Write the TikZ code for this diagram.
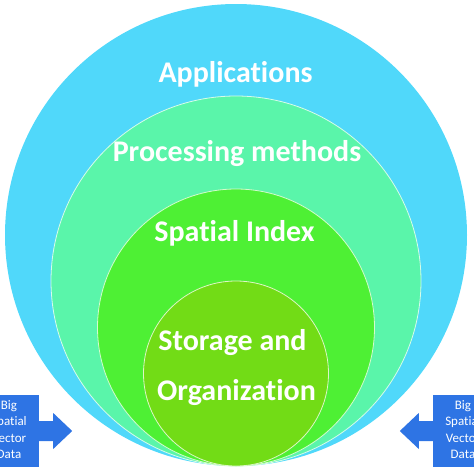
\documentclass[tikz,border=0pt]{standalone}
\usepackage{fontspec}
\setmainfont{Carlito}[Ligatures=NoCommon]
\usepackage{xcolor}
\definecolor{appblue}{RGB}{80,216,250}
\definecolor{procmint}{RGB}{90,245,170}
\definecolor{idxgreen}{RGB}{78,240,52}
\definecolor{storegreen}{RGB}{114,220,22}
\definecolor{datablue}{RGB}{46,116,228}

\begin{document}
\begin{tikzpicture}[x=1pt, y=-1pt,
    shell/.style={circle, fill=#1, draw=white!75!#1, line width=0.8pt, inner sep=0pt},
    lbl/.style={anchor=base, text=white, inner sep=0pt,
                font=\fontsize{30}{36}\selectfont\bfseries},
    src/.style={fill=datablue, text=white, minimum width=60pt, minimum height=72pt,
                align=center, inner sep=0pt, font=\fontsize{13}{16.5}\selectfont},
    pointer/.style={fill=datablue}
]
\clip (0,0) rectangle (474,474);
\node[shell=appblue, draw=none, minimum size=462pt] (app) at (236,235) {};
\node[shell=procmint, minimum size=370pt] (proc) at (236,281) {};
\node[shell=idxgreen, minimum size=277pt] (idx) at (236,327.5) {};
\node[shell=storegreen, minimum size=185pt] (stor) at (236,373.5) {};

\node[lbl] (tapp) at (235.5,82) {Applications};
\node[lbl] (tproc) at (237,161) {Processing methods};
\node[lbl] (tidx) at (234.5,241) {Spatial Index};
\node[lbl] (tstor) at (232.5,350) {Storage and};
\node[lbl] (torg) at (236.5,400) {Organization};

\node[src, text depth=3pt] (datal) at (9,431) {Big\\Spatial\\Vector\\Data};
\node[src, text depth=3pt] (datar) at (463,431) {Big\\Spatial\\Vector\\Data};
\fill[pointer] ([yshift=10pt]datal.east) -- ++(14,0) -- ++(0,-8) -- ++(19,18)
    -- ++(-19,18) -- ++(0,-8) -- ++(-14,0) -- cycle;
\fill[pointer] ([yshift=10pt]datar.west) -- ++(-14,0) -- ++(0,-8) -- ++(-19,18)
    -- ++(19,18) -- ++(0,-8) -- ++(14,0) -- cycle;
\end{tikzpicture}
\end{document}
